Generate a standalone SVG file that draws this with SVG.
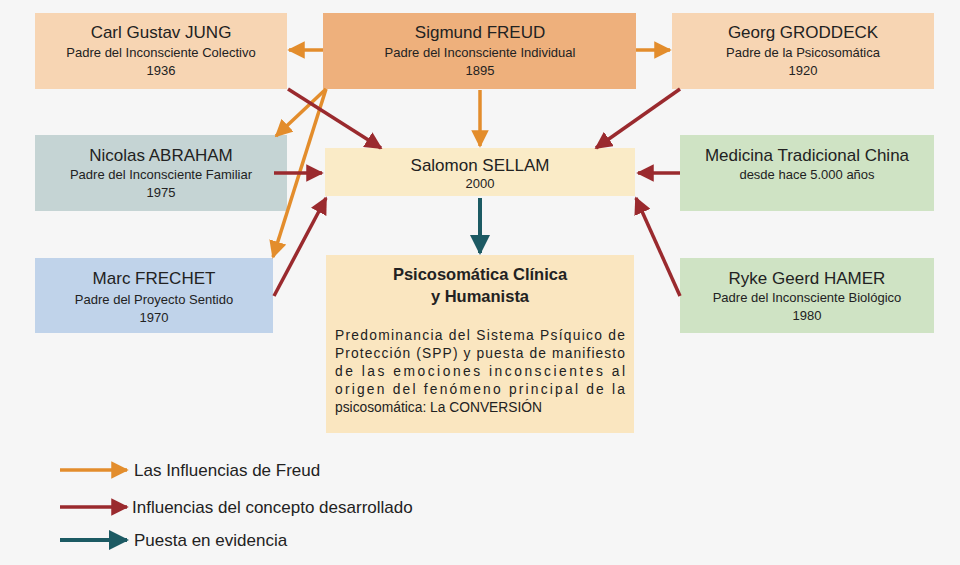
<svg xmlns="http://www.w3.org/2000/svg" width="960" height="565" viewBox="0 0 960 565">
<style>
text{font-family:"Liberation Sans",Arial,sans-serif;fill:#222;text-anchor:middle}
.t{font-size:17px}.s{font-size:13px}
.o{stroke:#e38d2c;stroke-width:3.5;fill:none}
.r{stroke:#9a2a2e;stroke-width:3.5;fill:none}
.g{stroke:#1c5a63;stroke-width:4;fill:none}
.p{font-size:13.8px;text-anchor:start}
.l{font-size:17px;text-anchor:start}
</style>
<defs>
<marker id="mo" viewBox="0 0 10 10" refX="9" refY="5" markerWidth="5" markerHeight="5" orient="auto" markerUnits="strokeWidth"><path d="M0,0L10,5L0,10z" fill="#e38d2c"/></marker>
<marker id="mr" viewBox="0 0 10 10" refX="9" refY="5" markerWidth="5" markerHeight="5" orient="auto" markerUnits="strokeWidth"><path d="M0,0L10,5L0,10z" fill="#9a2a2e"/></marker>
<marker id="mg" viewBox="0 0 10 10" refX="9" refY="5" markerWidth="5" markerHeight="5" orient="auto" markerUnits="strokeWidth"><path d="M0,0L10,5L0,10z" fill="#1c5a63"/></marker>
</defs>
<rect width="960" height="565" fill="#f6f6f6"/>
<g id="jung"><rect x="35" y="13" width="252" height="76" fill="#f7d5b3"/><text x="161" y="38" class="t">Carl Gustav JUNG</text><text x="161" y="57" class="s">Padre del Inconsciente Colectivo</text><text x="161" y="75" class="s">1936</text></g>
<g id="freud"><rect x="323" y="13" width="313" height="76" fill="#eeb07c"/><text x="480" y="38" class="t">Sigmund FREUD</text><text x="480" y="57" class="s">Padre del Inconsciente Individual</text><text x="480" y="75" class="s">1895</text></g>
<g id="groddeck"><rect x="672" y="13" width="262" height="76" fill="#f7d5b3"/><text x="803" y="38" class="t">Georg GRODDECK</text><text x="803" y="57" class="s">Padre de la Psicosomática</text><text x="803" y="75" class="s">1920</text></g>
<g id="abraham"><rect x="35" y="135" width="252" height="76" fill="#c5d4d4"/><text x="161" y="161" class="t">Nicolas ABRAHAM</text><text x="161" y="179" class="s">Padre del Inconsciente Familiar</text><text x="161" y="197" class="s">1975</text></g>
<g id="sellam"><rect x="325" y="148" width="310" height="48" fill="#faebc7"/><text x="480" y="171" class="t">Salomon SELLAM</text><text x="480" y="188" class="s">2000</text></g>
<g id="medicina"><rect x="680" y="135" width="254" height="76" fill="#cfe3c4"/><text x="807" y="161" class="t">Medicina Tradicional China</text><text x="807" y="179" class="s">desde hace 5.000 años</text></g>
<g id="frechet"><rect x="35" y="258" width="238" height="75" fill="#c0d3ea"/><text x="154" y="284" class="t">Marc FRECHET</text><text x="154" y="304" class="s">Padre del Proyecto Sentido</text><text x="154" y="322" class="s">1970</text></g>
<g id="hamer"><rect x="680" y="258" width="254" height="75" fill="#cfe3c4"/><text x="807" y="284" class="t">Ryke Geerd HAMER</text><text x="807" y="302" class="s">Padre del Inconsciente Biológico</text><text x="807" y="320" class="s">1980</text></g>
<g id="psico"><rect x="326" y="255" width="308" height="178" fill="#fae6c0"/>
<text x="480" y="280" style="font-size:16.5px;font-weight:bold">Psicosomática Clínica</text>
<text x="480" y="302" style="font-size:16.5px;font-weight:bold">y Humanista</text>
<text x="335" y="340" class="p" textLength="290" lengthAdjust="spacing">Predominancia del Sistema Psíquico de</text>
<text x="335" y="358" class="p" textLength="290" lengthAdjust="spacing">Protección (SPP) y puesta de manifiesto</text>
<text x="335" y="376" class="p" textLength="290" lengthAdjust="spacing">de las emociones inconscientes al</text>
<text x="335" y="394" class="p" textLength="290" lengthAdjust="spacing">origen del fenómeno principal de la</text>
<text x="335" y="412" class="p">psicosomática: La CONVERSIÓN</text></g>
<g id="connectors">
<line x1="323" y1="50" x2="289" y2="50" class="o" marker-end="url(#mo)"/>
<line x1="636" y1="50" x2="670" y2="50" class="o" marker-end="url(#mo)"/>
<line x1="480" y1="90" x2="480" y2="146" class="o" marker-end="url(#mo)"/>
<line x1="326" y1="89" x2="276" y2="136" class="o" marker-end="url(#mo)"/>
<line x1="326" y1="89" x2="273" y2="257" class="o" marker-end="url(#mo)"/>
<line x1="288" y1="89" x2="381" y2="148" class="r" marker-end="url(#mr)"/>
<line x1="680" y1="89" x2="596" y2="148" class="r" marker-end="url(#mr)"/>
<line x1="274" y1="173" x2="322" y2="173" class="r" marker-end="url(#mr)"/>
<line x1="680" y1="173" x2="638" y2="173" class="r" marker-end="url(#mr)"/>
<line x1="274" y1="296" x2="326" y2="198" class="r" marker-end="url(#mr)"/>
<line x1="680" y1="296" x2="636" y2="198" class="r" marker-end="url(#mr)"/>
<line x1="480" y1="198" x2="480" y2="253" class="g" marker-end="url(#mg)"/>
</g>
<g id="legend">
<line x1="60" y1="470" x2="127" y2="470" class="o" marker-end="url(#mo)"/>
<text x="134" y="476" class="l">Las Influencias de Freud</text>
<line x1="60" y1="507" x2="127" y2="507" class="r" marker-end="url(#mr)"/>
<text x="132" y="513" class="l">Influencias del concepto desarrollado</text>
<line x1="60" y1="540" x2="127" y2="540" class="g" marker-end="url(#mg)"/>
<text x="134" y="546" class="l">Puesta en evidencia</text>
</g>
</svg>
